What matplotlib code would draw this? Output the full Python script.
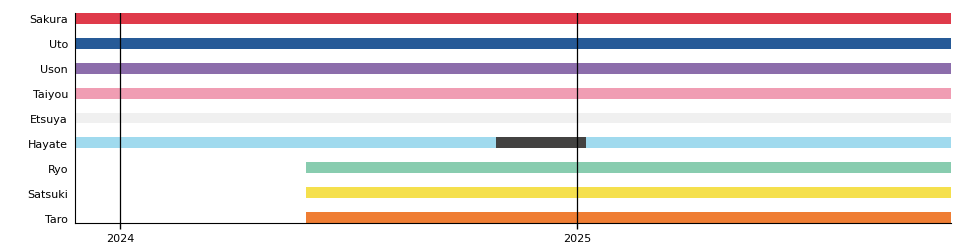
import matplotlib
matplotlib.use("Agg")
import matplotlib.pyplot as plt
import matplotlib.dates as mdates
import pandas as pd

# rows from top to bottom
names = ["Sakura", "Uto", "Uson", "Taiyou", "Etsuya", "Hayate", "Ryo", "Satsuki", "Taro"]
starts = ["2023-11-26", "2023-11-26", "2023-11-26", "2023-11-26", "2023-11-26",
          "2023-11-26", "2024-05-29", "2024-05-29", "2024-05-29"]
ends = ["2025-10-27"] * 9
colors = ["#df3a4a", "#265a97", "#8c6dab", "#f09db3", "#f0f0f0",
          "#a0daee", "#88ccaf", "#f5e04d", "#ef7d33"]

# extra segment on Hayate
seg_name = "Hayate"
seg_start = "2024-10-28"
seg_end = "2025-01-08"
seg_color = "#434241"

x_min = "2023-11-26"
x_max = "2025-10-27"

fig = plt.figure(figsize=(9.75, 2.53), dpi=100)
ax = fig.add_axes([75/975, 29/253, 876/975, 210/253])

n = len(names)
ypos = {nm: n - 1 - i for i, nm in enumerate(names)}
for nm, s, e, c in zip(names, starts, ends, colors):
    s0 = mdates.date2num(pd.Timestamp(s))
    e0 = mdates.date2num(pd.Timestamp(e))
    ax.barh(ypos[nm], e0 - s0, left=s0, height=0.44, color=c, zorder=1)

s0 = mdates.date2num(pd.Timestamp(seg_start))
e0 = mdates.date2num(pd.Timestamp(seg_end))
ax.barh(ypos[seg_name], e0 - s0, left=s0, height=0.44, color=seg_color, zorder=2)

ax.set_yticks([ypos[nm] for nm in names])
ax.set_yticklabels(names, fontsize=8)
ax.set_ylim(-0.22, n - 1 + 0.22)
ax.set_xlim(mdates.date2num(pd.Timestamp(x_min)), mdates.date2num(pd.Timestamp(x_max)))
ax.xaxis.set_major_locator(mdates.YearLocator())
ax.xaxis.set_major_formatter(mdates.DateFormatter("%Y"))
ax.tick_params(axis="x", labelsize=8, length=4, width=1)
ax.tick_params(axis="y", length=0, pad=5)

ax.grid(axis="x", color="black", linewidth=0.9, zorder=5)
ax.set_axisbelow(False)
for sp in ["top", "right"]:
    ax.spines[sp].set_visible(False)
ax.spines["left"].set_zorder(6)
ax.spines["bottom"].set_zorder(6)

fig.savefig("out.png", dpi=100)
